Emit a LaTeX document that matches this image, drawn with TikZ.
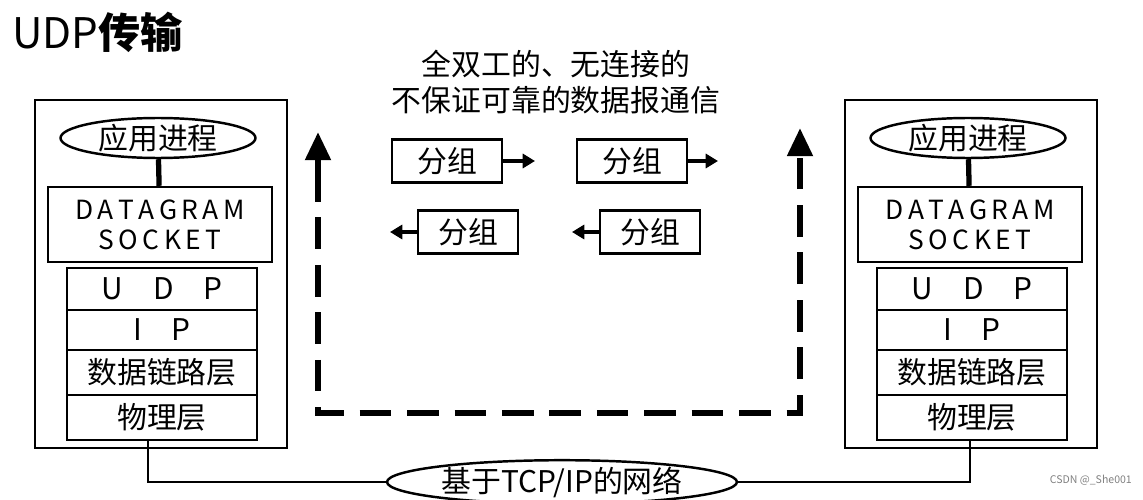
\documentclass[tikz,border=0pt]{standalone}
\usepackage{fontspec}
\setmainfont{Noto Sans CJK SC}
\usetikzlibrary{arrows.meta,shapes.geometric}
\tikzset{>={Triangle[length=16pt,width=14pt]}}
\tikzset{
  hostbox/.style={draw,line width=1.6pt},
  cell/.style={draw,line width=1.4pt,minimum width=3.8cm,inner sep=0pt,font=\fontsize{17}{17}\selectfont},
  proc/.style={draw,ellipse,line width=1.4pt,minimum width=3.9cm,minimum height=0.8cm,inner sep=0pt,font=\fontsize{17}{17}\selectfont},
  pkt/.style={draw,line width=1.6pt,minimum height=0.85cm,inner sep=0pt,font=\fontsize{17}{17}\selectfont},
  link/.style={line width=1.4pt},
}
\begin{document}
\begin{tikzpicture}[x=0.02cm,y=-0.02cm]
  \useasboundingbox (0,0) rectangle (1143,500);
  \node[anchor=west,font=\fontsize{24}{24}\selectfont] (title) at (6,32) {UDP\textbf{传输}};
  \node[font=\fontsize{17}{20}\selectfont,align=center] (note) at (556,82) {全双工的、无连接的\\不保证可靠的数据报通信};
  % two hosts
  \foreach \n/\x in {L/0,R/810}{
    \draw[hostbox] (35+\x,100) rectangle (287+\x,448);
    \node[proc] (app\n) at (158+\x,138) {应用进程};
    \node[cell,minimum width=4.48cm,minimum height=1.5cm,align=center,font=\fontsize{15}{17}\selectfont] (sock\n) at (160+\x,224.5) {D\,A\,T\,A\,G\,R\,A\,M\\S\,O\,C\,K\,E\,T};
    \node[cell,minimum height=0.84cm] (udp\n) at (162+\x,289) {U\quad D\quad P};
    \node[cell,minimum height=0.8cm] (ip\n) at (162+\x,330) {I\quad P};
    \node[cell,minimum height=0.9cm] (dl\n) at (162+\x,372.5) {数据链路层};
    \node[cell,minimum height=0.9cm] (phy\n) at (162+\x,417.5) {物理层};
    \draw[line width=3pt] (app\n) -- (sock\n);
  }
  \node[proc,minimum width=7cm,minimum height=0.76cm] (net) at (562,482) {基于TCP/IP的网络};
  \draw[link] (phyL.south -| 148,0) |- (net.west);
  \draw[link] (phyR.south -| 970,0) |- (net.east);
  % dashed path
  \coordinate (up1) at (318,132);
  \coordinate (up2) at (800,128);
  \draw[line width=3.5pt,dash pattern=on 18pt off 9pt,->] (318,170) -- (318,413) -- (800,413) -- (up2);
  \draw[line width=3.5pt,->] (318,190) -- (up1);
  % packets
  \node[pkt,minimum width=2.2cm] (p1) at (447,161) {分组};
  \node[pkt,minimum width=2.2cm] (p2) at (632,161) {分组};
  \node[pkt,minimum width=2cm] (p3) at (468,232) {分组};
  \node[pkt,minimum width=2cm] (p4) at (650,232) {分组};
  \coordinate (a1) at (535,161);
  \coordinate (a2) at (718,161);
  \coordinate (a3) at (390,232);
  \coordinate (a4) at (572,232);
  \draw[line width=2pt,-{Triangle[length=7pt,width=8pt]}] (p1) -- (a1);
  \draw[line width=2pt,-{Triangle[length=7pt,width=8pt]}] (p2) -- (a2);
  \draw[line width=2pt,-{Triangle[length=7pt,width=8pt]}] (p3) -- (a3);
  \draw[line width=2pt,-{Triangle[length=7pt,width=8pt]}] (p4) -- (a4);
  \node[anchor=south east,font=\fontsize{6}{6}\selectfont,text=gray] (mark) at (1138,492) {CSDN @\_She001};
\end{tikzpicture}
\end{document}
